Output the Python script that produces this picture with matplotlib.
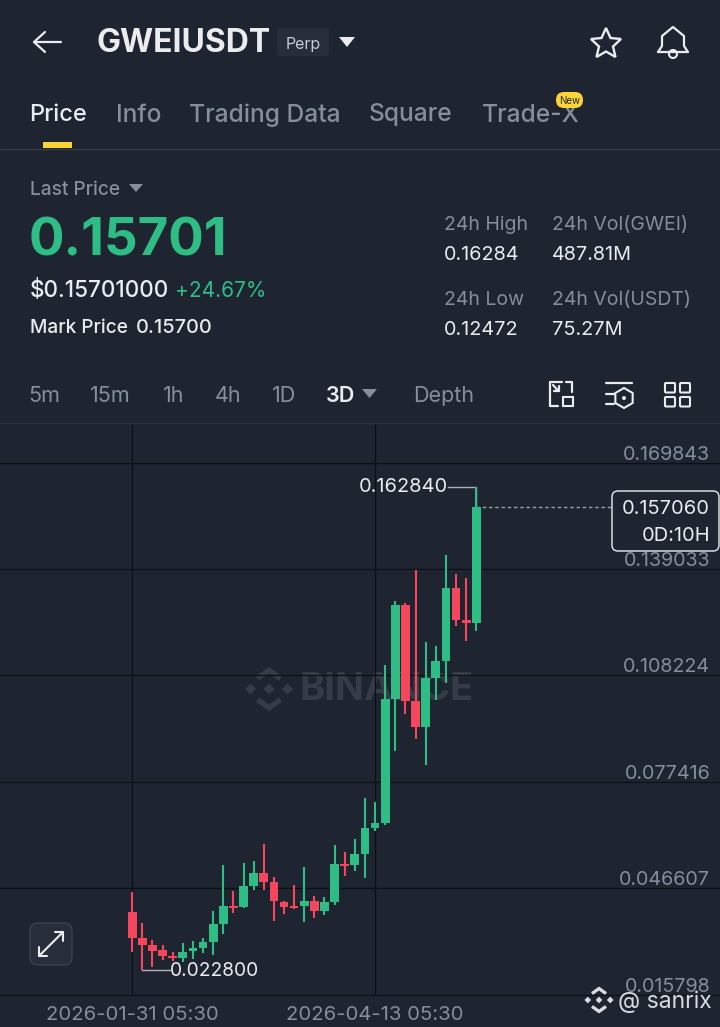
import matplotlib
matplotlib.use('Agg')
import matplotlib.pyplot as plt
from matplotlib.patches import FancyBboxPatch, Polygon, Rectangle, Circle, RegularPolygon

BG = '#1e2530'
WHITE = '#eaecef'
GRAY = '#848e9c'
GREEN = '#2ebd85'
RED = '#f6465d'
YELLOW = '#fcd535'
GRID = '#0c0f14'

plt.rcParams['font.family'] = ['Inter', 'DejaVu Sans']

# OHLC
opens = [0.03982, 0.03229, 0.03027, 0.02873, 0.02688, 0.02650, 0.02833, 0.02920, 0.03093,
         0.03615, 0.04156, 0.04118, 0.04715, 0.05112, 0.04831, 0.04263, 0.04136, 0.04136,
         0.04301, 0.04011, 0.04263, 0.05363, 0.05343, 0.05653, 0.06415, 0.06551, 0.10150,
         0.12872, 0.10092, 0.09319, 0.10738, 0.11242, 0.13356, 0.12438, 0.12331]
highs = [0.04541, 0.03655, 0.03151, 0.03027, 0.02815, 0.03076, 0.03122, 0.03209, 0.03991,
         0.05335, 0.04590, 0.05392, 0.05450, 0.05951, 0.04996, 0.04281, 0.04755, 0.05277,
         0.04437, 0.04408, 0.05914, 0.05720, 0.06087, 0.07275, 0.07168, 0.11135, 0.12979,
         0.12921, 0.13877, 0.11792, 0.11665, 0.14320, 0.13770, 0.13654, 0.16284]
lows = [0.02804, 0.02280, 0.02370, 0.02572, 0.02543, 0.02514, 0.02613, 0.02786, 0.02737,
        0.03325, 0.03945, 0.04098, 0.04611, 0.04599, 0.03722, 0.03916, 0.04061, 0.03693,
        0.03800, 0.03895, 0.04185, 0.05025, 0.05149, 0.04967, 0.06328, 0.06493, 0.08624,
        0.09707, 0.08992, 0.08219, 0.10101, 0.10605, 0.12244, 0.11821, 0.12119]
closes = [0.03229, 0.03027, 0.02853, 0.02699, 0.02650, 0.02824, 0.02940, 0.03093, 0.03615,
          0.04147, 0.04098, 0.04715, 0.05112, 0.04842, 0.04281, 0.04127, 0.04089, 0.04301,
          0.04011, 0.04272, 0.05363, 0.05314, 0.05653, 0.06406, 0.06539, 0.10150, 0.12863,
          0.10092, 0.09319, 0.10738, 0.11242, 0.13356, 0.12438, 0.12331, 0.15706]

price_ticks = [0.169843, 0.139033, 0.108224, 0.077416, 0.046607, 0.015798]
date_idx = [0, 24]
date_labels = ['2026-01-31 05:30', '2026-04-13 05:30']
high_idx, high_val = 34, 0.16284
low_idx, low_val = 1, 0.0228
last_price = 0.15706

intervals = ['5m', '15m', '1h', '4h', '1D', '3D', 'Depth']
interval_x = [44, 110, 174, 228, 284, 341, 444]
tabs = ['Price', 'Info', 'Trading Data', 'Square', 'Trade-X']
tab_x = [30, 116, 189, 369, 482]

W, H = 720, 1027
AXIS_SIZE = 14.2
fig = plt.figure(figsize=(7.2, 10.27), dpi=100, facecolor=BG)


def logo(a, cx, cy, s, color):
    for dx in (-0.8 * s, 0, 0.8 * s):
        a.add_patch(RegularPolygon((cx + dx, cy), 4, radius=0.24 * s, color=color, lw=0))
    lw = s * 0.17
    for sign in (-1, 1):
        a.plot([cx - 0.5 * s, cx, cx + 0.5 * s],
               [cy + sign * 0.46 * s, cy + sign * 0.82 * s, cy + sign * 0.46 * s],
               color=color, lw=lw, solid_capstyle='butt', solid_joinstyle='miter')


# watermark sits under the candles
wm = fig.add_axes([0, 0, 1, 1], facecolor='none', zorder=-1)
wm.set_xlim(0, W)
wm.set_ylim(H, 0)
wm.axis('off')
logo(wm, 269, 689, 23, '#363c47')
wm.text(300, 690, 'BINANCE', color='#363c47', fontsize=27.5, fontweight='bold', va='center')

# chart area, pixel rows 424..996
ax = fig.add_axes([0, (H - 996) / H, 1, (996 - 424) / H], facecolor='none')
per_px = 0.00028957
ax.set_ylim(0.169843 - (996 - 462.6) * per_px, 0.169843 + (462.6 - 424) * per_px)
step = 10.12
ax.set_xlim(-132.2 / step, (720 - 132.2) / step)
ax.axis('off')

for p in price_ticks:
    ax.axhline(p, color=GRID, lw=0.9, zorder=1)
    ax.annotate(f'{p:.6f}', xy=(1, p), xycoords=('axes fraction', 'data'),
                xytext=(-7, 5.8), textcoords='offset points', ha='right', va='center',
                color=GRAY, fontsize=AXIS_SIZE, annotation_clip=False)
for i, lab in zip(date_idx, date_labels):
    ax.axvline(i, color=GRID, lw=0.9, zorder=1)
    ax.annotate(lab, xy=(i, 0), xycoords=('data', 'axes fraction'), xytext=(0, -13.5),
                textcoords='offset points', ha='center', va='center', color=GRAY,
                fontsize=14.6, annotation_clip=False)

for i in range(len(opens)):
    c = GREEN if closes[i] >= opens[i] else RED
    ax.vlines(i, lows[i], highs[i], color=c, lw=1.5, zorder=3)
    ax.bar(i, abs(closes[i] - opens[i]), bottom=min(opens[i], closes[i]), width=0.86,
           color=c, zorder=3)

# high / low markers
ax.plot([high_idx, high_idx, high_idx - 2.8], [closes[high_idx], high_val, high_val],
        color='#aab0b8', lw=1, zorder=2)
ax.annotate(f'{high_val:.6f}', xy=(high_idx - 2.8, high_val), xytext=(0, -0.5),
            textcoords='offset points', ha='right', va='center', color=WHITE, fontsize=14.4)
ax.plot([low_idx, low_idx + 2.7], [low_val, low_val], color='#aab0b8', lw=1, zorder=2)
ax.annotate(f'{low_val:.6f}', xy=(low_idx + 2.7, low_val), xytext=(0, -0.5),
            textcoords='offset points', ha='left', va='center', color=WHITE, fontsize=13.8)
ax.plot([high_idx, 47.5], [last_price, last_price], color='#9aa0a8', lw=1, ls=(0, (2.5, 2)), zorder=2)

# everything else is screen furniture, in pixels
ui = fig.add_axes([0, 0, 1, 1], facecolor='none')
ui.set_xlim(0, W)
ui.set_ylim(H, 0)
ui.axis('off')


def label(x, y, s, color=WHITE, size=13, **kw):
    kw.setdefault('va', 'center')
    ui.text(x, y, s, color=color, fontsize=size, **kw)


def line(xs, ys, color=WHITE, lw=1.6):
    ui.plot(xs, ys, color=color, lw=lw, solid_capstyle='round', solid_joinstyle='round')


# header
line([34, 61], [42, 42])
line([45, 34, 45], [32, 42, 52])
label(97, 44, 'GWEIUSDT', WHITE, 23, fontweight='bold')
ui.add_patch(FancyBboxPatch((277, 28), 52, 28, boxstyle='round,pad=0,rounding_size=3', fc='#272e39', lw=0))
label(303, 44, 'Perp', '#c8ccd2', 11.5, ha='center')
ui.add_patch(Polygon([[339, 37], [355, 37], [347, 47]], fc=WHITE, lw=0))
star = [[606, 28], [610.5, 38], [621, 39], [613, 46.5], [615.5, 57], [606, 51.5],
        [596.5, 57], [599, 46.5], [591, 39], [601.5, 38], [606, 28]]
ui.add_patch(Polygon(star, fc='none', ec=WHITE, lw=1.7))
line([658, 662, 662, 673, 684, 684, 688, 658],
     [52, 46, 36, 27, 36, 46, 52, 52])
ui.add_patch(Circle((673, 54), 4, fc='none', ec=WHITE, lw=1.5))

# tabs
for x, t in zip(tab_x, tabs):
    if t == 'Price':
        label(x - 1, 115, t, WHITE, 17, fontweight='medium')
    else:
        label(x, 115, t, GRAY, 17.7, fontweight='medium')
ui.add_patch(Rectangle((43, 142), 29, 6, fc=YELLOW, lw=0))
ui.add_patch(FancyBboxPatch((556, 92), 27, 16, boxstyle='round,pad=0,rounding_size=8',
                            fc=YELLOW, lw=0, zorder=4))
label(569.5, 100.5, 'New', '#1e2530', 7, ha='center', zorder=5)
line([0, 720], [149, 149], '#343a45', 1)

# price block
label(30, 190, 'Last Price', GRAY, 13.8, fontweight='medium')
ui.add_patch(Polygon([[129, 184], [143, 184], [136, 192]], fc=GRAY, lw=0))
label(29, 242, '0.15701', GREEN, 38, fontweight='bold')
label(30, 291, '$0.15701000', WHITE, 16.2, fontweight='medium')
label(175, 291, '+24.67%', GREEN, 15)
label(30, 328, 'Mark Price', WHITE, 13.7, fontweight='medium')
label(136, 328, '0.15700', WHITE, 14.4, fontweight='medium')
label(444, 225, '24h High', GRAY, 14)
label(552, 225, '24h Vol(GWEI)', GRAY, 14)
label(444, 255, '0.16284', WHITE, 14.3)
label(552, 255, '487.81M', WHITE, 14.3)
label(444, 300, '24h Low', GRAY, 14)
label(552, 300, '24h Vol(USDT)', GRAY, 14)
label(444, 330, '0.12472', WHITE, 14.3)
label(552, 330, '75.27M', WHITE, 14.3)

# interval row
for x, t in zip(interval_x, intervals):
    label(x, 396, t, WHITE if t == '3D' else GRAY, 15.5, ha='center',
          fontweight='semibold' if t == '3D' else 'normal')
ui.add_patch(Polygon([[362, 389], [377, 389], [369.5, 398]], fc=GRAY, lw=0))
line([0, 720], [423, 423], '#2b313c', 1)

# toolbar icons
line([562, 550, 550, 558], [382, 382, 406, 406])
line([572, 572, 566], [392, 382, 382])
line([553, 558.5], [385, 391])
line([554, 559, 559], [391, 391, 386])
ui.add_patch(Rectangle((563, 397), 10, 9, fc='none', ec=WHITE, lw=1.5))
line([606, 632], [383, 383])
line([606, 614], [394, 394])
line([606, 614], [404, 404])
ui.add_patch(RegularPolygon((624, 398), 6, radius=10, fc='none', ec=WHITE, lw=1.5))
ui.add_patch(Circle((624, 398), 2, fc=WHITE, lw=0))
for bx in (665, 680):
    for by in (383, 397):
        ui.add_patch(FancyBboxPatch((bx, by), 10, 9.5, boxstyle='round,pad=0,rounding_size=1',
                                    fc='none', ec=WHITE, lw=1.5))

# last price box
ui.add_patch(FancyBboxPatch((612, 491), 107, 60, boxstyle='round,pad=0,rounding_size=6',
                            fc=BG, ec=WHITE, lw=1, zorder=5))
label(710, 509, '0.157060', WHITE, 14.4, ha='right', zorder=6)
label(710, 536, '0D:10H', WHITE, 14.4, ha='right', zorder=6)

# expand button
ui.add_patch(FancyBboxPatch((30, 923), 42, 42, boxstyle='round,pad=0,rounding_size=8',
                            fc='#272e39', ec='#3c434e', lw=1))
line([39, 63], [956, 932], lw=1.5)
line([39, 39, 47], [947, 956, 956], lw=1.5)
line([55, 63, 63], [932, 932, 941], lw=1.5)

# author mark
logo(ui, 599, 1000, 14, '#d8dbdf')
label(618, 1002, '@ sanrix', '#d8dbdf', 16.5)

fig.savefig('out.png', dpi=100, facecolor=BG)
